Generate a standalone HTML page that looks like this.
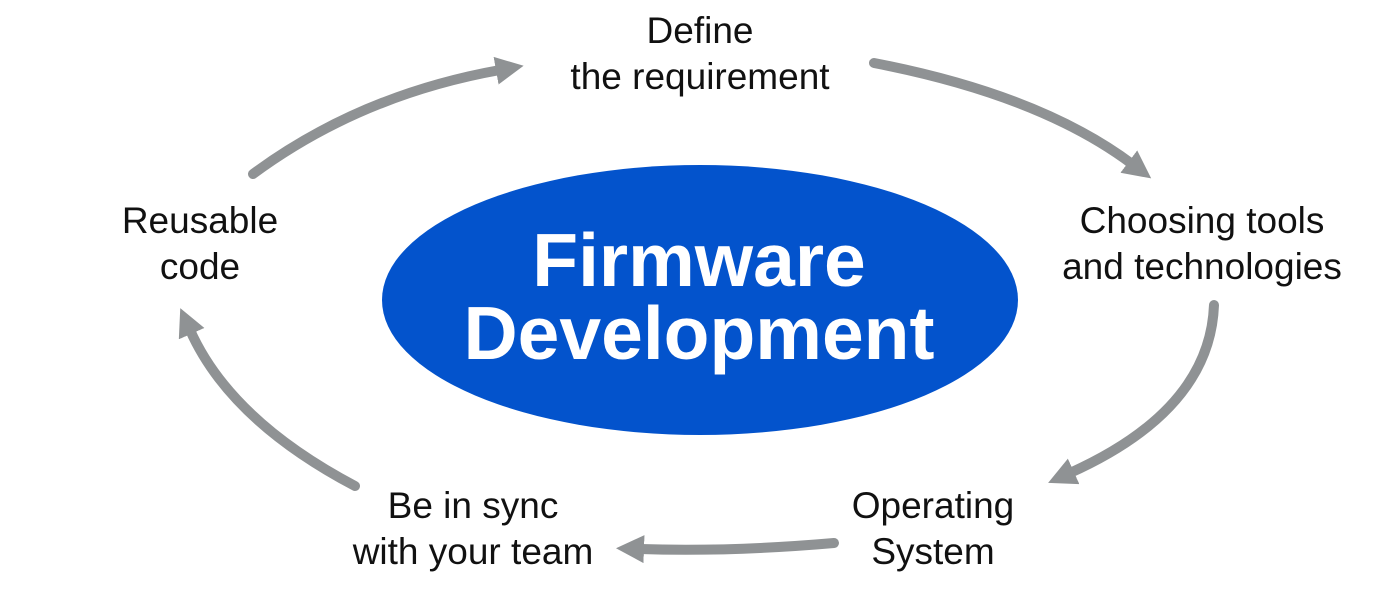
<!DOCTYPE html>
<html><head><meta charset="utf-8"><style>
html,body{margin:0;padding:0;background:#fff;width:1400px;height:600px;overflow:hidden}
svg text{font-family:"Liberation Sans",sans-serif}
</style></head><body>
<svg width="1400" height="600" viewBox="0 0 1400 600" xmlns="http://www.w3.org/2000/svg">
<defs>
<marker id="a" markerUnits="userSpaceOnUse" markerWidth="34" markerHeight="34" refX="4" refY="14" orient="auto">
<path d="M0,0 L28,14 L0,28 Z" fill="#8f9294"/>
</marker>
</defs>
<g fill="none" stroke="#8f9294" stroke-width="10" stroke-linecap="round">
<path d="M253,174 Q360,95 500,70" marker-end="url(#a)"/>
<path d="M874,63 Q1040,95 1132,164" marker-end="url(#a)"/>
<path d="M1214,305 Q1210,410 1070,473" marker-end="url(#a)"/>
<path d="M834,543 Q730,552 640,549" marker-end="url(#a)"/>
<path d="M355,486 Q230,420 190,330" marker-end="url(#a)"/>
</g>
<ellipse cx="700" cy="300" rx="318" ry="135" fill="#0353cc"/>
<g fill="#fff" font-weight="bold" font-size="75" text-anchor="middle">
<text x="699" y="286">Firmware</text>
<text x="699" y="359">Development</text>
</g>
<g fill="#111" font-size="37" text-anchor="middle">
<text x="700" y="43">Define</text>
<text x="700" y="89">the requirement</text>
<text x="1202" y="233">Choosing tools</text>
<text x="1202" y="279">and technologies</text>
<text x="933" y="518">Operating</text>
<text x="933" y="564">System</text>
<text x="473" y="518">Be in sync</text>
<text x="473" y="564">with your team</text>
<text x="200" y="233">Reusable</text>
<text x="200" y="279">code</text>
</g>
</svg>
</body></html>
